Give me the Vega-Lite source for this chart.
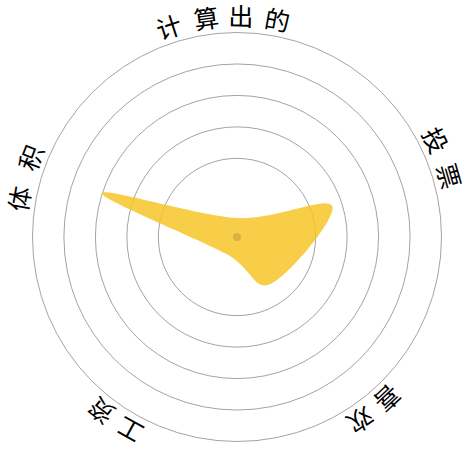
{
  "$schema": "https://vega.github.io/schema/vega-lite/v6.json",
  "width": 474,
  "height": 474,
  "padding": 0,
  "autosize": "none",
  "datasets": {
    "rings": [{"ring": 2.5}, {"ring": 3.5}, {"ring": 4.5}, {"ring": 5.5}, {"ring": 6.5}],
    "scores": [
      {"axis": "计算出的", "angle": 0, "value": 0.6},
      {"axis": "投票", "angle": 72, "value": 3.18},
      {"axis": "喜欢", "angle": 144, "value": 1.84},
      {"axis": "工资", "angle": 216, "value": 0.64},
      {"axis": "体积", "angle": 288, "value": 4.51}
    ],
    "labels": [
      {"char": "计", "angle": 342},
      {"char": "算", "angle": 352},
      {"char": "出", "angle": 1},
      {"char": "的", "angle": 10.5},
      {"char": "投", "angle": 64},
      {"char": "票", "angle": 74},
      {"char": "喜", "angle": 137},
      {"char": "欢", "angle": 146},
      {"char": "工", "angle": 209},
      {"char": "资", "angle": 218},
      {"char": "体", "angle": 280},
      {"char": "积", "angle": 291}
    ]
  },
  "layer": [
    {
      "data": {"name": "rings"},
      "mark": {"type": "arc", "theta": 0, "theta2": 6.2832, "fillOpacity": 0, "stroke": "#999999", "strokeWidth": 0.9},
      "encoding": {
        "radius": {"field": "ring", "type": "quantitative", "stack": null, "scale": {"type": "linear", "domain": [0, 7.533], "range": [0, 237], "zero": true}}
      }
    },
    {
      "data": {"name": "scores"},
      "transform": [
        {"calculate": "datum.value * sin(datum.angle * PI / 180)", "as": "x"},
        {"calculate": "datum.value * cos(datum.angle * PI / 180)", "as": "y"}
      ],
      "mark": {"type": "line", "interpolate": "cardinal-closed", "fill": "#F7C428", "fillOpacity": 0.85, "stroke": null},
      "encoding": {
        "x": {"field": "x", "type": "quantitative", "scale": {"domain": [-7.533, 7.533], "nice": false, "zero": false}, "axis": null},
        "y": {"field": "y", "type": "quantitative", "scale": {"domain": [-7.533, 7.533], "nice": false, "zero": false}, "axis": null},
        "order": {"field": "angle", "type": "quantitative"}
      }
    },
    {
      "data": {"values": [{"x": 0, "y": 0}]},
      "mark": {"type": "circle", "size": 64, "color": "#D8B13E", "opacity": 1},
      "encoding": {
        "x": {"field": "x", "type": "quantitative"},
        "y": {"field": "y", "type": "quantitative"}
      }
    },
    {
      "data": {"name": "labels"},
      "mark": {"type": "text", "font": "Noto Sans CJK SC", "fontSize": 25, "color": "#000000", "align": "center", "baseline": "middle"},
      "encoding": {
        "theta": {"field": "angle", "type": "quantitative", "stack": null, "scale": {"type": "linear", "domain": [0, 360], "range": [0, 6.283185], "zero": true}},
        "radius": {"datum": 6.96, "type": "quantitative"},
        "angle": {"field": "angle", "type": "quantitative", "scale": null},
        "text": {"field": "char"}
      }
    }
  ],
  "config": {"view": {"stroke": null}}
}
